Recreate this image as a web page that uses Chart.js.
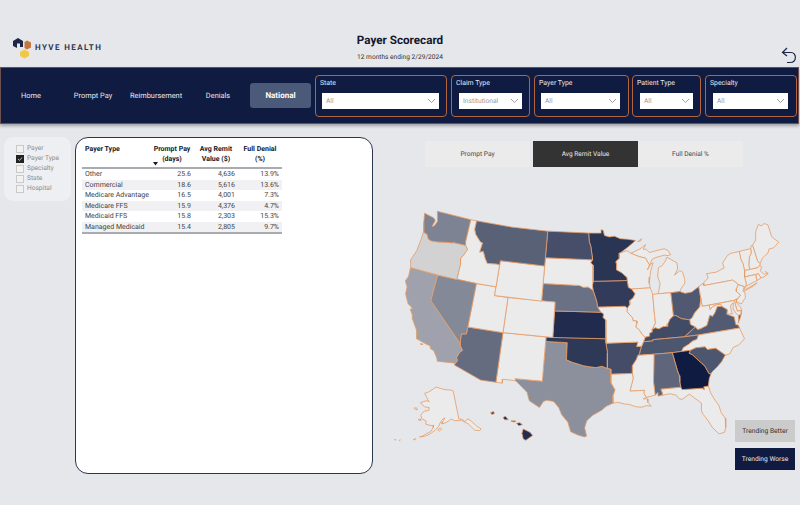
<!DOCTYPE html>
<html>
<head>
<meta charset="utf-8">
<title>Payer Scorecard</title>
<script src="https://cdn.jsdelivr.net/npm/chart.js@4/dist/chart.umd.min.js"></script>
<style>
  html, body { margin: 0; padding: 0; }
  body { width: 800px; height: 505px; background: #e6e7eb; overflow: hidden; position: relative;
         font-family: Roboto, "Noto Sans", sans-serif; color: #222; text-rendering: geometricPrecision; }
  .abs { position: absolute; white-space: nowrap; }
  #title { left: 0; width: 800px; top: 33px; text-align: center; font-size: 11.7px; font-weight: 700; color: #14182c; }
  #subtitle { left: 0; width: 800px; top: 53px; text-align: center; font-size: 6.6px; color: #333; }
  #brand { left: 35px; top: 43px; font-size: 8px; font-weight: 700; letter-spacing: 1.4px; color: #2c3650; }
  #navbar { left: 0; top: 67px; width: 799px; height: 57px; background: #0f1b40; border: 1px solid #6d5050;
            box-sizing: border-box; box-shadow: 0 2px 3px rgba(0,0,0,.3); }
  .navlink { font-size: 7.4px; color: #e6e8ee; transform: translateX(-50%); }
  #active { left: 250px; top: 83px; width: 61px; height: 25px; background: #4b5a78; border-radius: 3px;
            color: #fff; font-size: 8px; font-weight: 700; line-height: 25px; text-align: center; }
  .slicer { top: 75px; height: 42px; box-sizing: border-box; border: 1px solid #b5653d; border-radius: 4px; }
  .slicer span { position: absolute; left: 4px; top: 3px; font-size: 6.9px; color: #e6e8ee; }
  .slicer div { position: absolute; top: 17px; height: 16px; background: #fff; font-size: 6.7px; color: #999;
                line-height: 17px; padding-left: 4px; box-sizing: border-box; }
  .slicer svg { position: absolute; right: 3px; top: 5px; }
  #checks { left: 4px; top: 137px; width: 67px; height: 64px; background: #eeeff2; border-radius: 9px; }
  .check { left: 16px; font-size: 6.6px; color: #8a8a8a; }
  .check i { position: absolute; left: 0; top: 1px; width: 6px; height: 6px; border: 1px solid #c9c9c9; background: #f2f2f2; }
  .check i.on { background: #222; border-color: #222; }
  .check svg { position: absolute; left: 1px; top: 2px; display: block; }
  .check b { font-weight: 400; margin-left: 11px; }
  #card { left: 75px; top: 137px; width: 298px; height: 337px; background: #fff; border: 1px solid #2c3650;
          border-radius: 13px; box-sizing: border-box; }
  .head { font-size: 7px; font-weight: 700; color: #14182c; line-height: 10px; text-align: center; transform: translateX(-50%); }
  .rule { width: 200px; height: 2px; background: #a9abb0; }
  .row { width: 200px; height: 10.6px; }
  .cell { font-size: 7px; color: #444; line-height: 10.6px; }
  .toggle { height: 26px; width: 105px; background: #ebebeb; font-size: 6.6px; color: #444;
            line-height: 26px; text-align: center; }
  .trend { left: 735px; width: 60px; height: 22px; font-size: 6.7px; line-height: 22px; text-align: center; }
  #mapBox { left: 385px; top: 195px; width: 415px; height: 265px; }
</style>
</head>
<body>
<div class="abs" id="title">Payer Scorecard</div>
<div class="abs" id="subtitle">12 months ending 2/29/2024</div>
<svg class="abs" style="left:12px;top:36px" width="22" height="24" viewBox="0 0 22 24">
  <polygon points="8,16 12.5,13.5 17,16 17,20 12.5,22.5 8,20" fill="#efc846"/>
  <polygon points="12.5,6 15,4.5 19,6.5 19,11.5 15,13.5 12.5,12" fill="#c5763c"/>
  <polygon points="6,2 11,5 11,11 8,11 8,7.5 5,7.5 5,12 1,10 1,5" fill="#1c2748"/>
</svg>
<div class="abs" id="brand">HYVE HEALTH</div>
<svg class="abs" style="left:781px;top:47px" width="16" height="18" viewBox="0 0 16 18">
  <path d="M6 1 L1.5 5.5 L6 9 M1.5 5.5 H10 C16 5.5 16 15.5 9 15.5 H6" fill="none" stroke="#1c2748" stroke-width="1.2"/>
</svg>

<div class="abs" id="navbar"></div>
<div class="abs" id="active">National</div>
<div id="navLinks"></div>
<div id="slicers"></div>

<div class="abs" id="checks"></div>
<div id="checkList"></div>

<div class="abs" id="card"></div>
<div id="table"></div>

<div id="toggles"></div>
<div class="abs trend" style="top:420px;background:#cbcbcb;color:#333">Trending Better</div>
<div class="abs trend" style="top:448px;background:#0f1b40;color:#e6e8ee">Trending Worse</div>

<div class="abs" id="mapBox"><canvas id="mapChart" width="415" height="265"></canvas></div>

<script>
// Table data
const payerTypes = ['Other', 'Commercial', 'Medicare Advantage', 'Medicare FFS', 'Medicaid FFS', 'Managed Medicaid'];
const promptPay = ['25.6', '18.6', '16.5', '15.9', '15.8', '15.4'];
const avgRemit = ['4,636', '5,616', '4,001', '4,376', '2,303', '2,805'];
const fullDenial = ['13.9%', '13.6%', '7.3%', '4.7%', '15.3%', '9.7%'];

const navItems = ['Home', 'Prompt Pay', 'Reimbursement', 'Denials'];
const groupOptions = ['Payer', 'Payer Type', 'Specialty', 'State', 'Hospital'];
const toggleItems = ['Prompt Pay', 'Avg Remit Value', 'Full Denial %'];
const slicerNames = ['State', 'Claim Type', 'Payer Type', 'Patient Type', 'Specialty'];
const slicerValues = ['All', 'Institutional', 'All', 'All', 'All'];

// Trend per state, 0 = best, 100 = worst. States not listed have no trend flag.
const stateTrend = {
    OR: 0, CA: 26, TX: 36, NV: 40, WA: 43, NE: 53, AZ: 56, AL: 59, MT: 62, VA: 65, OH: 66,
    TN: 68, SC: 68, ND: 72, AR: 73, KY: 74, IA: 82, OK: 84, MN: 86, HI: 90, KS: 91, GA: 100
};

// Shared river borders, lon,lat pairs
const stCroix = [-92.02,46.71,-92.29,46.66,-92.29,46.08,-92.87,45.7,-92.75,45.3,-92.8,44.75];
const missA = [-92.8,44.75,-92.0,44.4,-91.25,43.85,-91.22,43.5];
const missB = [-91.22,43.5,-91.1,42.7,-90.64,42.51];
const missC = [-90.64,42.51,-90.15,41.95,-90.5,41.5,-91.05,41.2,-91.0,40.8,-91.42,40.38];
const missD = [-91.42,40.38,-91.5,40.0,-90.73,39.25,-90.68,38.93,-90.12,38.85,-90.18,38.6,-90.35,38.2,-89.9,37.88,-89.5,37.3,-89.13,36.98];
const missE = [-89.13,36.98,-89.4,36.5];
const missF = [-89.4,36.5,-89.7,36.0];
const missG = [-89.7,36.0,-89.95,35.5,-90.07,35.13,-90.3,35.0];
const missH = [-90.3,35.0,-90.58,34.5,-91.1,33.9,-91.17,33.0];
const missI = [-91.17,33.0,-91.1,32.4,-91.4,31.6,-91.6,31.0];
const ohioA = [-89.13,36.98,-88.5,37.07,-88.45,37.4,-88.07,37.5,-88.03,37.8];
const ohioB = [-88.03,37.8,-87.6,37.95,-87.1,37.8,-86.5,38.0,-85.9,38.0,-85.75,38.27,-85.4,38.73,-84.82,39.1];
const ohioC = [-84.82,39.1,-84.5,39.1,-83.7,38.65,-82.6,38.42];
const ohioD = [-82.6,38.42,-82.2,38.6,-81.75,39.1,-80.87,39.7,-80.6,40.4,-80.52,40.64];
const moA = [-98.5,43.0,-97.9,42.8,-97.2,42.85,-96.45,42.49];
const moB = [-96.45,42.49,-96.1,41.7,-95.9,41.2,-95.77,40.59];
const moC = [-95.77,40.59,-95.31,40.0];
const moD = [-95.31,40.0,-94.9,39.8,-95.0,39.4,-94.61,39.11];
const redRiver = [-94.48,33.64,-95.2,33.9,-96.0,33.75,-96.9,33.85,-97.7,33.95,-98.5,34.15,-99.2,34.3,-100,34.56];

function rev(a) {
    const out = [];
    for (let i = a.length - 2; i >= 0; i -= 2) out.push(a[i], a[i + 1]);
    return out;
}

// State outlines, lon,lat pairs, one list per ring
const stateOutlines = {
    WA: [[-117.03,49,-122.76,49,-122.5,48.5,-122.3,47.9,-122.55,47.3,-122.9,47.15,-122.65,47.9,-123.0,48.15,-124.7,48.38,-124.35,47.3,-124.05,46.7,-123.95,46.25,-123.3,46.15,-122.85,45.65,-122.3,45.55,-121.2,45.65,-119.9,45.85,-119.0,45.93,-118.98,46.0,-116.92,46.0,-117.04,46.43]],
    OR: [[-123.95,46.25,-123.3,46.15,-122.85,45.65,-122.3,45.55,-121.2,45.65,-119.9,45.85,-119.0,45.93,-118.98,46.0,-116.92,46.0,-116.46,45.6,-116.85,44.9,-117.2,44.4,-117.03,43.83,-117.03,42,-120,42,-124.21,42,-124.55,42.85,-124.1,44.0,-123.97,45.2]],
    CA: [[-124.21,42,-120,42,-120,39,-114.63,35.0,-114.57,34.8,-114.14,34.3,-114.43,34.05,-114.72,33.4,-114.52,33.03,-114.72,32.72,-117.12,32.53,-117.25,32.85,-117.9,33.6,-118.4,33.75,-118.5,34.03,-119.2,34.15,-120.5,34.45,-120.65,34.9,-120.9,35.4,-121.9,36.6,-122.0,36.95,-122.5,37.5,-122.2,37.6,-122.5,37.8,-123.0,38.0,-123.75,39.0,-123.85,39.8,-124.35,40.4,-124.1,41.0],
         [-119.9,34.0,-119.5,34.05,-119.6,33.95]],
    NV: [[-120,42,-114.04,42,-114.04,36.2,-114.74,36.1,-114.63,35.0,-120,39]],
    ID: [[-117.03,49,-116.05,49,-116.05,48.0,-115.7,47.45,-114.7,46.7,-114.35,46.65,-114.5,45.55,-113.95,45.7,-113.45,44.95,-113.0,44.45,-111.5,44.55,-111.05,44.48,-111.05,42,-114.04,42,-117.03,42,-117.03,43.83,-117.2,44.4,-116.85,44.9,-116.46,45.6,-116.92,46.0,-117.04,46.43]],
    MT: [[-116.05,49,-110,49,-104.05,49,-104.05,45,-111.05,45,-111.05,44.48,-111.5,44.55,-113.0,44.45,-113.45,44.95,-113.95,45.7,-114.5,45.55,-114.35,46.65,-114.7,46.7,-115.7,47.45,-116.05,48.0]],
    WY: [[-111.05,45,-104.05,45,-104.05,41,-111.05,41]],
    UT: [[-114.04,42,-111.05,42,-111.05,41,-109.05,41,-109.05,37,-114.04,37]],
    CO: [[-109.05,41,-102.05,41,-102.05,37,-109.05,37]],
    AZ: [[-114.04,37,-109.05,37,-109.05,31.33,-111.07,31.33,-114.81,32.5,-114.72,32.72,-114.52,33.03,-114.72,33.4,-114.43,34.05,-114.14,34.3,-114.57,34.8,-114.63,35.0,-114.74,36.1,-114.04,36.2]],
    NM: [[-109.05,37,-103.0,37,-103.04,32.0,-106.62,32.0,-106.53,31.78,-108.21,31.78,-108.21,31.33,-109.05,31.33]],
    ND: [[-104.05,49,-97.23,49,-97.1,48.0,-96.85,47.5,-96.6,46.3,-96.56,45.94,-104.05,45.94]],
    SD: [[-104.05,45.94,-96.56,45.94,-96.85,45.6,-96.45,45.3,-96.45,43.5,-96.55,43.0,-96.45,42.49,...rev(moA),-104.05,43]],
    NE: [[-104.05,43,...moA,...moB.slice(2),...moC.slice(2),-102.05,40,-102.05,41,-104.05,41]],
    KS: [[-102.05,40,...moD,-94.62,37,-102.05,37]],
    OK: [[-103.0,37,-94.62,37,-94.62,36.5,-94.43,35.4,...redRiver,-100,36.5,-103.0,36.5]],
    TX: [[-103.0,36.5,-100,36.5,...rev(redRiver),-94.04,33.55,-94.04,33.0,-94.04,32.0,-93.55,31.2,-93.85,30.5,-93.84,29.7,-94.7,29.35,-95.3,28.9,-96.4,28.35,-97.15,27.7,-97.4,26.9,-97.15,25.96,-97.4,25.85,-98.2,26.05,-99.1,26.4,-99.5,27.5,-100.3,28.3,-100.7,29.1,-101.4,29.77,-102.3,29.88,-102.7,29.7,-103.15,28.98,-104.5,29.65,-104.9,30.6,-106.53,31.78,-106.62,32.0,-103.04,32.0]],
    MN: [[-97.23,49,-95.15,49,-95.15,49.38,-94.8,49.33,-94.6,48.72,-93.8,48.55,-92.95,48.62,-92.0,48.3,-90.8,48.2,-89.5,48.0,-90.8,47.3,...stCroix,...missA.slice(2),-96.45,43.5,-96.45,45.3,-96.85,45.6,-96.56,45.94,-96.6,46.3,-96.85,47.5,-97.1,48.0]],
    IA: [[-96.45,43.5,...missB,...missC.slice(2),-91.72,40.6,...rev(moB),-96.55,43.0]],
    MO: [[-95.77,40.59,-91.72,40.6,...missD,...missE.slice(2),...missF.slice(2),-90.37,36.0,-90.15,36.5,-94.62,36.5,-94.62,37,...rev(moD),-95.77,40.59]],
    AR: [[-94.62,36.5,-90.15,36.5,-90.37,36.0,...missG,...missH.slice(2),-94.04,33.0,-94.04,33.55,-94.48,33.64,-94.43,35.4]],
    LA: [[-94.04,33.0,...missI,-89.73,31.0,-89.83,30.65,-89.53,30.18,-89.95,30.05,-89.4,30.0,-89.4,29.6,-89.0,29.15,-89.6,29.25,-90.2,29.1,-91.0,29.2,-91.8,29.5,-92.3,29.55,-93.2,29.77,-93.84,29.7,-93.85,30.5,-93.55,31.2,-94.04,32.0]],
    MS: [[-90.3,35.0,-88.2,35.0,-88.1,34.9,-88.47,31.9,-88.4,30.37,-89.53,30.18,-89.83,30.65,-89.73,31.0,...rev(missI),...rev(missH).slice(2)]],
    AL: [[-88.2,35.0,-85.6,34.98,-85.18,32.87,-85.0,32.3,-85.05,31.55,-85.0,31.0,-87.6,31.0,-87.42,30.45,-87.5,30.3,-88.0,30.23,-88.0,30.65,-88.4,30.37,-88.47,31.9,-88.1,34.9]],
    GA: [[-85.6,34.98,-83.1,35.0,-83.35,34.7,-82.9,34.45,-81.9,33.4,-81.5,33.0,-81.13,32.1,-80.87,32.03,-81.2,31.5,-81.45,30.72,-82.05,30.7,-82.05,30.36,-82.2,30.57,-84.86,30.7,-85.0,31.0,-85.05,31.55,-85.0,32.3,-85.18,32.87]],
    FL: [[-87.6,31.0,-85.0,31.0,-84.86,30.7,-82.2,30.57,-82.05,30.36,-82.05,30.7,-81.45,30.72,-81.3,29.9,-80.9,29.0,-80.55,28.4,-80.4,27.5,-80.03,26.8,-80.15,25.75,-80.4,25.2,-81.1,25.13,-81.75,25.95,-82.2,26.9,-82.7,27.7,-82.8,28.2,-82.65,28.9,-83.4,29.55,-84.0,30.1,-85.0,29.6,-85.35,29.68,-85.7,30.15,-86.5,30.38,-87.5,30.3,-87.42,30.45]],
    SC: [[-83.1,35.0,-82.3,35.2,-81.05,35.15,-80.8,34.82,-79.67,34.8,-78.55,33.86,-79.2,33.2,-79.9,32.7,-80.65,32.25,-80.87,32.03,-81.13,32.1,-81.5,33.0,-81.9,33.4,-82.9,34.45,-83.35,34.7]],
    NC: [[-84.32,35.0,-83.1,35.0,-82.3,35.2,-81.05,35.15,-80.8,34.82,-79.67,34.8,-78.55,33.86,-77.95,33.9,-77.3,34.55,-76.5,34.7,-75.55,35.25,-75.9,36.55,-81.68,36.59,-82.0,36.12,-82.6,36.0,-83.2,35.7,-84.0,35.4]],
    TN: [[-90.3,35.0,-88.2,35.0,-85.6,34.98,-84.32,35.0,-84.0,35.4,-83.2,35.7,-82.6,36.0,-82.0,36.12,-81.68,36.59,-83.68,36.6,-86.5,36.65,-88.07,36.65,-88.07,36.5,...missF,...missG.slice(2)]],
    KY: [[...ohioA,...ohioB.slice(2),...ohioC.slice(2),-82.6,37.9,-81.97,37.54,-83.68,36.6,-86.5,36.65,-88.07,36.65,-88.07,36.5,-89.4,36.5]],
    VA: [[-83.68,36.6,-81.97,37.54,-81.68,37.2,-81.25,37.25,-80.3,37.5,-79.65,38.58,-79.3,38.4,-78.87,38.76,-78.35,39.4,-77.72,39.32,-77.05,38.85,-77.25,38.35,-76.3,37.9,-76.3,37.0,-76.0,36.93,-75.87,36.55,-81.68,36.59],
         [-75.95,37.15,-75.65,37.95,-75.25,38.03,-75.6,37.5]],
    WV: [[...ohioD,-80.52,39.72,-79.48,39.72,-79.48,39.2,-79.07,39.47,-78.4,39.62,-77.85,39.6,-77.72,39.32,-78.35,39.4,-78.87,38.76,-79.3,38.4,-79.65,38.58,-80.3,37.5,-81.25,37.25,-81.68,37.2,-81.97,37.54,-82.6,37.9]],
    MD: [[-79.48,39.72,-75.79,39.72,-75.69,38.46,-75.05,38.45,-75.25,38.03,-75.65,37.95,-75.95,38.3,-76.2,38.8,-76.0,39.5,-76.5,39.2,-76.5,38.5,-76.4,38.3,-77.25,38.35,-77.05,38.85,-77.72,39.32,-77.85,39.6,-78.4,39.62,-79.07,39.47,-79.48,39.2]],
    DE: [[-75.79,39.72,-75.4,39.8,-75.55,39.45,-75.1,38.8,-75.05,38.45,-75.69,38.46]],
    PA: [[-80.52,41.98,-79.76,42.27,-79.76,42,-75.35,42,-75.05,41.75,-74.7,41.36,-75.1,40.95,-75.2,40.65,-74.72,40.15,-75.4,39.8,-75.79,39.72,-80.52,39.72]],
    NJ: [[-74.7,41.36,-73.9,41.0,-74.25,40.5,-74.0,40.45,-74.1,39.75,-74.9,39.17,-75.5,39.5,-75.55,39.6,-74.72,40.15,-75.2,40.65,-75.1,40.95]],
    NY: [[-79.76,42.27,-79.05,42.7,-78.9,43.0,-79.05,43.27,-77.5,43.25,-76.2,43.55,-76.3,44.1,-75.3,44.85,-74.7,45.0,-73.35,45.0,-73.4,44.0,-73.25,43.6,-73.27,42.75,-73.5,42.05,-73.5,41.3,-73.65,41.0,-73.9,40.75,-73.9,41.0,-74.7,41.36,-75.05,41.75,-75.35,42,-79.76,42],
         [-74.0,40.6,-71.9,41.07,-72.6,40.8,-73.9,40.55]],
    CT: [[-73.5,42.05,-71.8,42.02,-71.85,41.32,-73.65,41.0,-73.5,41.3]],
    RI: [[-71.8,42.02,-71.38,42.02,-71.15,41.5,-71.85,41.32]],
    MA: [[-73.27,42.75,-71.3,42.7,-70.85,42.87,-70.6,42.65,-71.0,42.3,-70.55,41.8,-70.05,41.8,-70.25,42.07,-69.95,41.75,-70.6,41.55,-71.15,41.5,-71.38,42.02,-71.8,42.02,-73.5,42.05]],
    VT: [[-73.35,45,-71.5,45,-71.6,44.5,-72.05,44.1,-72.45,43.2,-72.46,42.73,-73.27,42.75,-73.25,43.6,-73.4,44.0]],
    NH: [[-71.5,45,-71.3,45.3,-71.08,45.3,-70.98,43.4,-70.7,43.07,-70.85,42.87,-71.3,42.7,-72.46,42.73,-72.45,43.2,-72.05,44.1,-71.6,44.5]],
    ME: [[-71.08,45.3,-70.4,45.8,-70.25,46.2,-70.0,46.7,-69.23,47.46,-68.9,47.18,-68.3,47.35,-67.8,47.07,-67.8,45.7,-67.45,45.3,-67.0,44.85,-68.0,44.4,-68.8,44.4,-69.1,44.0,-69.8,43.75,-70.2,43.6,-70.7,43.07,-70.98,43.4]],
    OH: [[-84.8,41.72,-83.45,41.73,-82.7,41.45,-81.7,41.5,-80.52,41.98,...rev(ohioD),...rev(ohioC).slice(2)]],
    IN: [[-87.53,41.72,-86.8,41.76,-84.8,41.72,...rev(ohioB),-87.5,38.5,-87.53,39.35]],
    IL: [[-87.8,42.5,-87.6,42.0,-87.53,41.72,-87.53,39.35,-87.5,38.5,...rev(ohioA),...rev(missD).slice(2),...rev(missC).slice(2)]],
    WI: [[-92.02,46.71,-91.0,46.9,-90.42,46.57,-89.1,46.13,-88.1,45.9,-87.8,45.35,-87.6,45.1,-88.0,44.55,-87.35,45.2,-87.0,45.3,-87.5,44.4,-87.7,43.7,-87.9,43.0,-87.8,42.5,-90.64,42.51,...rev(missB).slice(2),...rev(missA).slice(2),...rev(stCroix).slice(2)]],
    MI: [[-86.8,41.76,-84.8,41.72,-83.45,41.73,-83.15,42.1,-82.5,42.6,-82.45,43.0,-82.6,43.85,-83.0,44.07,-83.9,43.65,-83.3,44.3,-83.3,45.0,-84.75,45.78,-85.0,45.4,-85.6,44.9,-86.25,44.7,-86.5,43.7,-86.25,42.9,-86.6,41.95],
         [-90.42,46.57,-89.1,46.13,-88.1,45.9,-87.8,45.35,-87.6,45.1,-87.05,45.75,-86.3,45.9,-85.0,46.05,-84.7,45.95,-84.1,46.0,-84.4,46.5,-85.0,46.77,-86.2,46.65,-87.4,46.5,-87.9,46.9,-88.4,46.95,-87.9,47.45,-88.9,47.0],
         [-89.2,47.85,-88.5,48.15,-88.7,47.9]]
};

const hawaiiOutlines = [
    [-155.9,20.25,-155.1,19.85,-154.8,19.5,-155.6,18.95,-155.9,19.1,-156.05,19.75],
    [-156.7,20.9,-156.3,20.95,-156.0,20.75,-156.4,20.6],
    [-157.3,21.2,-156.75,21.15,-156.9,21.05,-157.3,21.1],
    [-158.27,21.55,-158.0,21.7,-157.65,21.3,-158.1,21.3],
    [-159.75,22.1,-159.4,22.23,-159.3,22.0,-159.6,21.9]
];

const alaskaOutlines = [
    [-141,69.65,-143.5,70.1,-148,70.4,-152,70.85,-156.5,71.35,-160,70.4,-163,69.5,-166.2,68.9,-164,67.7,-163,67.1,-161.5,66.4,-164,66.55,-168,65.6,-164.5,64.5,-161,64.5,-161,63.6,-164,63.1,-165.5,62.3,-166,61.6,-165,60.6,-162,60.0,-162,59,-160,58.8,-158,58.7,-157,58.85,-157.3,58.1,-158.5,56.8,-161,55.9,-163,55.0,-164.5,54.6,-162,55.0,-160,55.6,-158,56.4,-156,57.3,-154,58.6,-153.5,59.3,-152,60.5,-151,61.0,-150,61.2,-151.5,60.0,-151.9,59.3,-150,59.6,-148,60.0,-146,60.7,-144,60.0,-141,59.8,-139.5,59.7,-137.5,58.7,-136,58.0,-134.5,56.5,-133.5,55.5,-131,54.9,-130,55.3,-131.8,56.6,-134,58.8,-135.5,59.7,-137.5,59,-139,60,-141,60.3],
    [-154.5,57.4,-153,58.0,-152.3,57.6,-153.5,57],
    [-167,60.2,-166,60.4,-165.5,60,-166.5,59.85],
    [-171.7,63.4,-170,63.7,-169,63.2,-170.5,63.1],
    [-167.5,53.4,-166.3,53.9,-166.8,53.4],
    [-174.5,52.1,-174,52.3,-174.2,52.05],
    [-176.8,51.8,-176.3,51.9,-176.5,51.7]
];

const rad = Math.PI / 180;

// Albers equal area, returns unit map coordinates
function conic(lon, lat, lon0, lat0, p1, p2) {
    const n = (Math.sin(p1 * rad) + Math.sin(p2 * rad)) / 2;
    const c = Math.cos(p1 * rad) ** 2 + 2 * n * Math.sin(p1 * rad);
    const rho = Math.sqrt(c - 2 * n * Math.sin(lat * rad)) / n;
    const rho0 = Math.sqrt(c - 2 * n * Math.sin(lat0 * rad)) / n;
    const th = n * (lon - lon0) * rad;
    return [rho * Math.sin(th), rho0 - rho * Math.cos(th)];
}

function lower48(lon, lat) {
    const p = conic(lon, lat, -96, 37.5, 29.5, 45.5);
    return { x: p[0], y: p[1] };
}

function hawaii(lon, lat) {
    const p = conic(lon, lat, -157, 19.9, 8, 18);
    const o = conic(-160, 19.9, -157, 19.9, 8, 18);
    return { x: p[0] - o[0] - 0.208, y: p[1] - 0.194 };
}

function alaska(lon, lat) {
    const p = conic(lon, lat, -154, 58.5, 55, 65);
    const o = conic(-156, 58.5, -154, 58.5, 55, 65);
    return { x: (p[0] - o[0]) * 0.35 - 0.31, y: p[1] * 0.35 - 0.183 };
}

function ringPoints(ring, project) {
    const pts = [];
    for (let i = 0; i < ring.length; i += 2) pts.push(project(ring[i], ring[i + 1]));
    pts.push(pts[0]);
    return pts;
}

// Light grey to navy by trend value
function trendColor(value) {
    if (value === undefined) return '#ebebeb';
    const t = value / 100;
    const mix = (a, b) => Math.round(a + (b - a) * t);
    return `rgb(${mix(210, 15)}, ${mix(210, 27)}, ${mix(210, 64)})`;
}

function stateDataset(code, ring, project) {
    return {
        label: code,
        data: ringPoints(ring, project),
        showLine: true,
        fill: 'shape',
        tension: 0,
        pointRadius: 0,
        borderWidth: 0.8,
        borderColor: '#e59c66',
        backgroundColor: trendColor(stateTrend[code])
    };
}

function initMap() {
    const datasets = [];
    Object.keys(stateOutlines).forEach(code => {
        stateOutlines[code].forEach(ring => datasets.push(stateDataset(code, ring, lower48)));
    });
    hawaiiOutlines.forEach(ring => datasets.push(stateDataset('HI', ring, hawaii)));
    alaskaOutlines.forEach(ring => datasets.push(stateDataset('AK', ring, alaska)));

    // box 385..800 x 195..460 on the page, map centre at 596, 334.4
    new Chart(document.getElementById('mapChart'), {
        type: 'scatter',
        data: { datasets: datasets },
        options: {
            responsive: false,
            animation: false,
            events: [],
            layout: { padding: 0 },
            plugins: { legend: { display: false }, tooltip: { enabled: false } },
            scales: {
                x: { type: 'linear', display: false, min: (385 - 596) / 518, max: (800 - 596) / 518 },
                y: { type: 'linear', display: false, min: (334.4 - 460) / 503, max: (334.4 - 195) / 503 }
            }
        }
    });
}

function addText(parent, cls, left, top, text, extra) {
    const el = document.createElement('div');
    el.className = 'abs ' + cls;
    el.style.left = left + 'px';
    el.style.top = top + 'px';
    el.textContent = text;
    if (extra) Object.assign(el.style, extra);
    parent.appendChild(el);
    return el;
}

function initChrome() {
    const navX = [31, 93, 156, 218];
    const nav = document.getElementById('navLinks');
    navItems.forEach((name, i) => addText(nav, 'navlink', navX[i], 91, name));

    const boxes = [[315, 132, 7, 117], [451, 79, 8, 63], [534, 95, 7, 79], [632, 69, 8, 53], [705, 92, 8, 75]];
    const slicers = document.getElementById('slicers');
    slicerNames.forEach((name, i) => {
        const b = boxes[i];
        const el = document.createElement('div');
        el.className = 'abs slicer';
        el.style.left = b[0] + 'px';
        el.style.width = b[1] + 'px';
        el.innerHTML = `<span>${name}</span><div style="left:${b[2] - 1}px;width:${b[3]}px">${slicerValues[i]}` +
            `<svg width="9" height="6" viewBox="0 0 9 6"><path d="M1 1 L4.5 4.5 L8 1" fill="none" stroke="#888" stroke-width=".8"/></svg></div>`;
        slicers.appendChild(el);
    });

    const checkList = document.getElementById('checkList');
    groupOptions.forEach((name, i) => {
        const el = addText(checkList, 'check', 16, 144 + i * 10.05, '');
        el.innerHTML = `<i class="${name === 'Payer Type' ? 'on' : ''}"></i><b>${name}</b>`;
        if (name === 'Payer Type') {
            el.innerHTML += '<svg width="6" height="6" viewBox="0 0 6 6"><path d="M1 3 L2.5 4.5 L5 1.5" fill="none" stroke="#ddd" stroke-width=".8"/></svg>';
        }
    });

    const toggles = document.getElementById('toggles');
    const toggleX = [425, 533, 638];
    toggleItems.forEach((name, i) => {
        const el = addText(toggles, 'toggle', toggleX[i], 141, name);
        if (i === 1) { el.style.background = '#333'; el.style.color = '#e8e8e8'; }
    });
}

function initTable() {
    const t = document.getElementById('table');
    addText(t, 'head', 85, 144, 'Payer Type', { transform: 'none' });
    addText(t, 'head', 172, 144, 'Prompt Pay').innerHTML = 'Prompt Pay<br>(days)';
    addText(t, 'head', 216, 144, 'Avg Remit').innerHTML = 'Avg Remit<br>Value ($)';
    addText(t, 'head', 260, 144, 'Full Denial').innerHTML = 'Full Denial<br>(%)';
    addText(t, 'rule', 82, 167, '');
    addText(t, 'rule', 82, 232, '');
    const arrow = addText(t, '', 153, 162, '');
    arrow.innerHTML = '<svg style="display:block" width="6" height="4"><polygon points="0,0 5,0 2.5,3.5" fill="#14182c"/></svg>';

    payerTypes.forEach((name, i) => {
        const top = 169 + i * 10.55;
        if (i % 2 === 1) addText(t, 'row', 82, top, '', { background: '#f1f1f3' });
        addText(t, 'cell', 85, top, name);
        addText(t, 'cell', 0, top, promptPay[i], { left: 'auto', right: (800 - 191) + 'px' });
        addText(t, 'cell', 0, top, avgRemit[i], { left: 'auto', right: (800 - 235) + 'px' });
        addText(t, 'cell', 0, top, fullDenial[i], { left: 'auto', right: (800 - 279) + 'px' });
    });
}

document.addEventListener('DOMContentLoaded', function() {
    initChrome();
    initTable();
    initMap();
});
</script>
</body>
</html>
